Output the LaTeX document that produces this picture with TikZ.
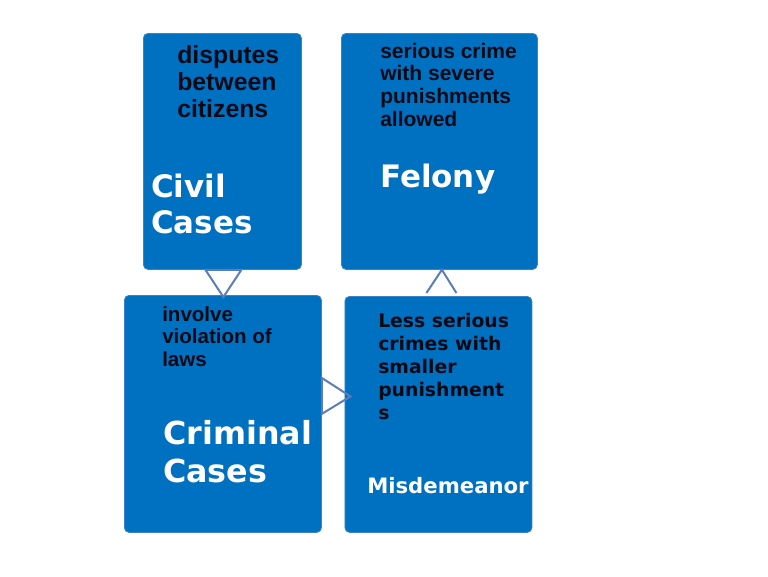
\documentclass[tikz,border=0pt]{standalone}
\usepackage{fontspec}
\setmainfont{DejaVu Sans}
\newfontfamily\dvb{DejaVu Sans}[BoldFont={DejaVu Sans Bold}]
\newfontfamily\lib{Liberation Sans}
\usetikzlibrary{calc}
\definecolor{boxblue}{HTML}{0070C0}
\definecolor{boxedge}{HTML}{3A84C6}
\definecolor{connblue}{HTML}{5B7DB9}
\definecolor{textdark}{HTML}{0A0A16}
\tikzset{
  box/.style={draw=boxedge, line width=0.6pt, fill=boxblue, rounded corners=3.5pt, anchor=north west, inner sep=0pt},
  conn/.style={draw=connblue, line width=1.5pt, line join=miter},
  small/.style={anchor=base west, inner sep=0pt, text=textdark},
  big/.style={anchor=base west, inner sep=0pt, text=white}
}
\begin{document}
\begin{tikzpicture}[x=0.75pt, y=-0.75pt]
\useasboundingbox (0,0) rectangle (768,576);
\node[box, minimum width=118.5pt, minimum height=177pt] (civil) at (143,33) {};
\node[box, minimum width=147pt, minimum height=177pt] (felony) at (341,33) {};
\node[box, minimum width=147.75pt, minimum height=177.75pt] (criminal) at (124,295) {};
\node[box, minimum width=140.25pt, minimum height=177pt] (misd) at (344.5,296) {};
% connectors
\draw[conn] ($(civil.south)+(-17,0)$) -- ($(civil.south)+(19,0)$) -- ($(criminal.north)+(0.5,2)$) -- cycle;
\draw[conn] ($(criminal.east)+(0,0)$) -- ($(criminal.east)+(0,-36)$) -- ($(misd.west)+(6,-18)$) -- cycle;
\draw[conn] ($(misd.north)+(-12,-3)$) -- ($(felony.south)+(2.5,0)$) -- ($(misd.north)+(18,-3)$);
% texts
\node[small] (t1) at (177,63) {\parbox[t]{130pt}{\raggedright\lib\bfseries\fontsize{18.6}{20.25}\selectfont disputes\\between\\citizens}};
\node[big] (t2) at (151,197) {\parbox[t]{130pt}{\raggedright\dvb\bfseries\fontsize{23.2}{27}\selectfont Civil\\Cases}};
\node[small] (t3) at (380,58) {\parbox[t]{130pt}{\raggedright\lib\bfseries\fontsize{15.75}{17}\selectfont serious crime\\with severe\\punishments\\allowed}};
\node[big] (t4) at (380,187) {\dvb\bfseries\fontsize{23.2}{27}\selectfont Felony};
\node[small] (t5) at (162,321) {\parbox[t]{130pt}{\raggedright\lib\bfseries\fontsize{15.4}{16.9}\selectfont involve\\violation of\\laws}};
\node[big] (t6) at (163,444) {\parbox[t]{150pt}{\raggedright\dvb\bfseries\fontsize{23.8}{28.5}\selectfont Criminal\\Cases}};
\node[small] (t7) at (378,327) {\parbox[t]{130pt}{\raggedright\dvb\bfseries\fontsize{14.1}{17.25}\selectfont Less serious\\crimes with\\smaller\\punishment\\s}};
\node[big] (t8) at (367,493) {\dvb\bfseries\fontsize{15.9}{18}\selectfont Misdemeanor};
\end{tikzpicture}
\end{document}
